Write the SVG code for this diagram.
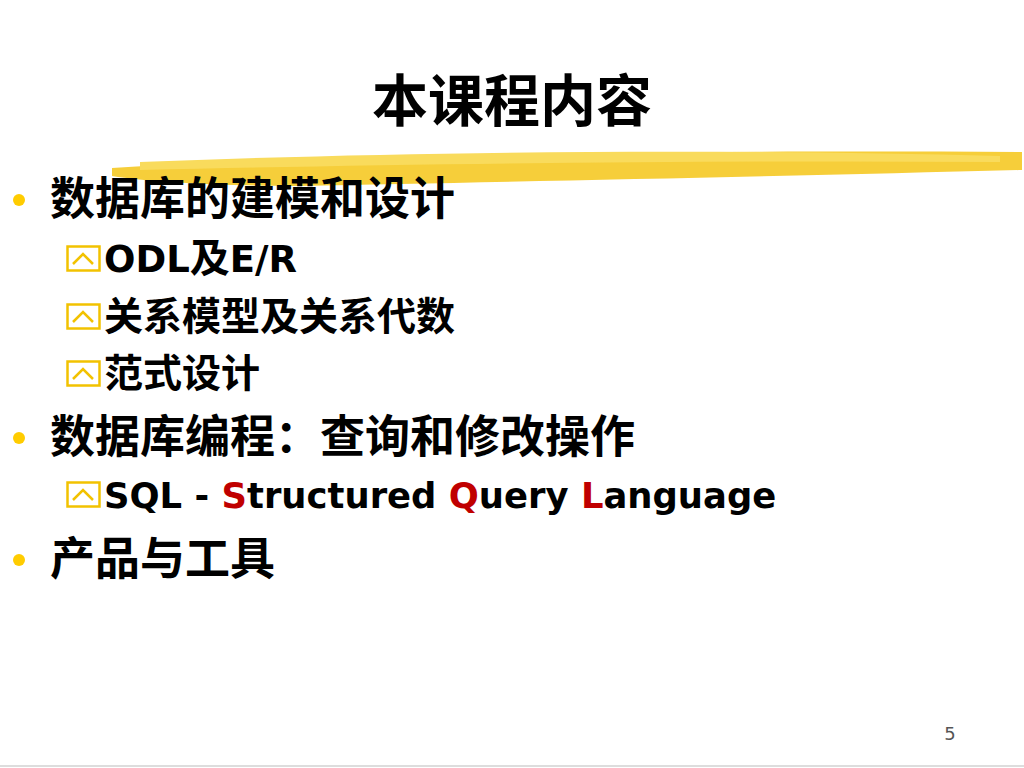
<svg xmlns="http://www.w3.org/2000/svg" width="1024" height="768" viewBox="0 0 1024 768">
<defs>
<style>
text{font-family:"DejaVu Sans","Noto Sans CJK SC",sans-serif;font-weight:bold;fill:#000}
.l1{font-size:45px}
.l2{font-size:39px}
.red{fill:#C00000}
.dot{fill:#FFCC00}
.ico{fill:none;stroke:#F2C200;stroke-width:2.5}
</style>
<g id="ic"><rect class="ico" x="1.5" y="1.5" width="32" height="24"/><path class="ico" d="M7 19 L17 9 L27 19"/></g>
</defs>
<rect width="1024" height="768" fill="#fff"/>
<text x="512" y="121" font-size="56" text-anchor="middle">本课程内容</text>
<g id="brush" fill="#F5C518">
<path d="M112 168 C300 156 600 150 1022 152 L1022 170 C800 176 500 182 300 186 C220 186 150 182 112 176 Z" opacity="0.85"/>
<path d="M140 162 C400 152 700 148 1000 156 L1000 162 C700 160 400 164 140 170 Z" fill="#F9DB5C"/>
</g>
<circle class="dot" cx="19" cy="200" r="6"/>
<text class="l1" x="50" y="215">数据库的建模和设计</text>
<use href="#ic" x="66" y="245"/>
<text class="l2" x="104" y="272" style="font-size:37px">ODL<tspan style="font-size:40px">及</tspan>E/R</text>
<use href="#ic" x="66" y="303"/>
<text class="l2" x="104" y="330">关系模型及关系代数</text>
<use href="#ic" x="66" y="360"/>
<text class="l2" x="104" y="387">范式设计</text>
<circle class="dot" cx="19" cy="438" r="6"/>
<text class="l1" x="50" y="453">数据库编程：查询和修改操作</text>
<use href="#ic" x="66" y="481"/>
<text class="l2" x="104" y="508" style="font-size:35.4px">SQL - <tspan class="red">S</tspan>tructured <tspan class="red">Q</tspan>uery <tspan class="red">L</tspan>anguage</text>
<circle class="dot" cx="19" cy="560" r="6"/>
<text class="l1" x="50" y="575">产品与工具</text>
<text x="950" y="740" font-size="18" style="font-weight:normal;fill:#555" text-anchor="middle">5</text>
<line x1="0" y1="766" x2="1024" y2="766" stroke="#ddd" stroke-width="2"/>
</svg>
